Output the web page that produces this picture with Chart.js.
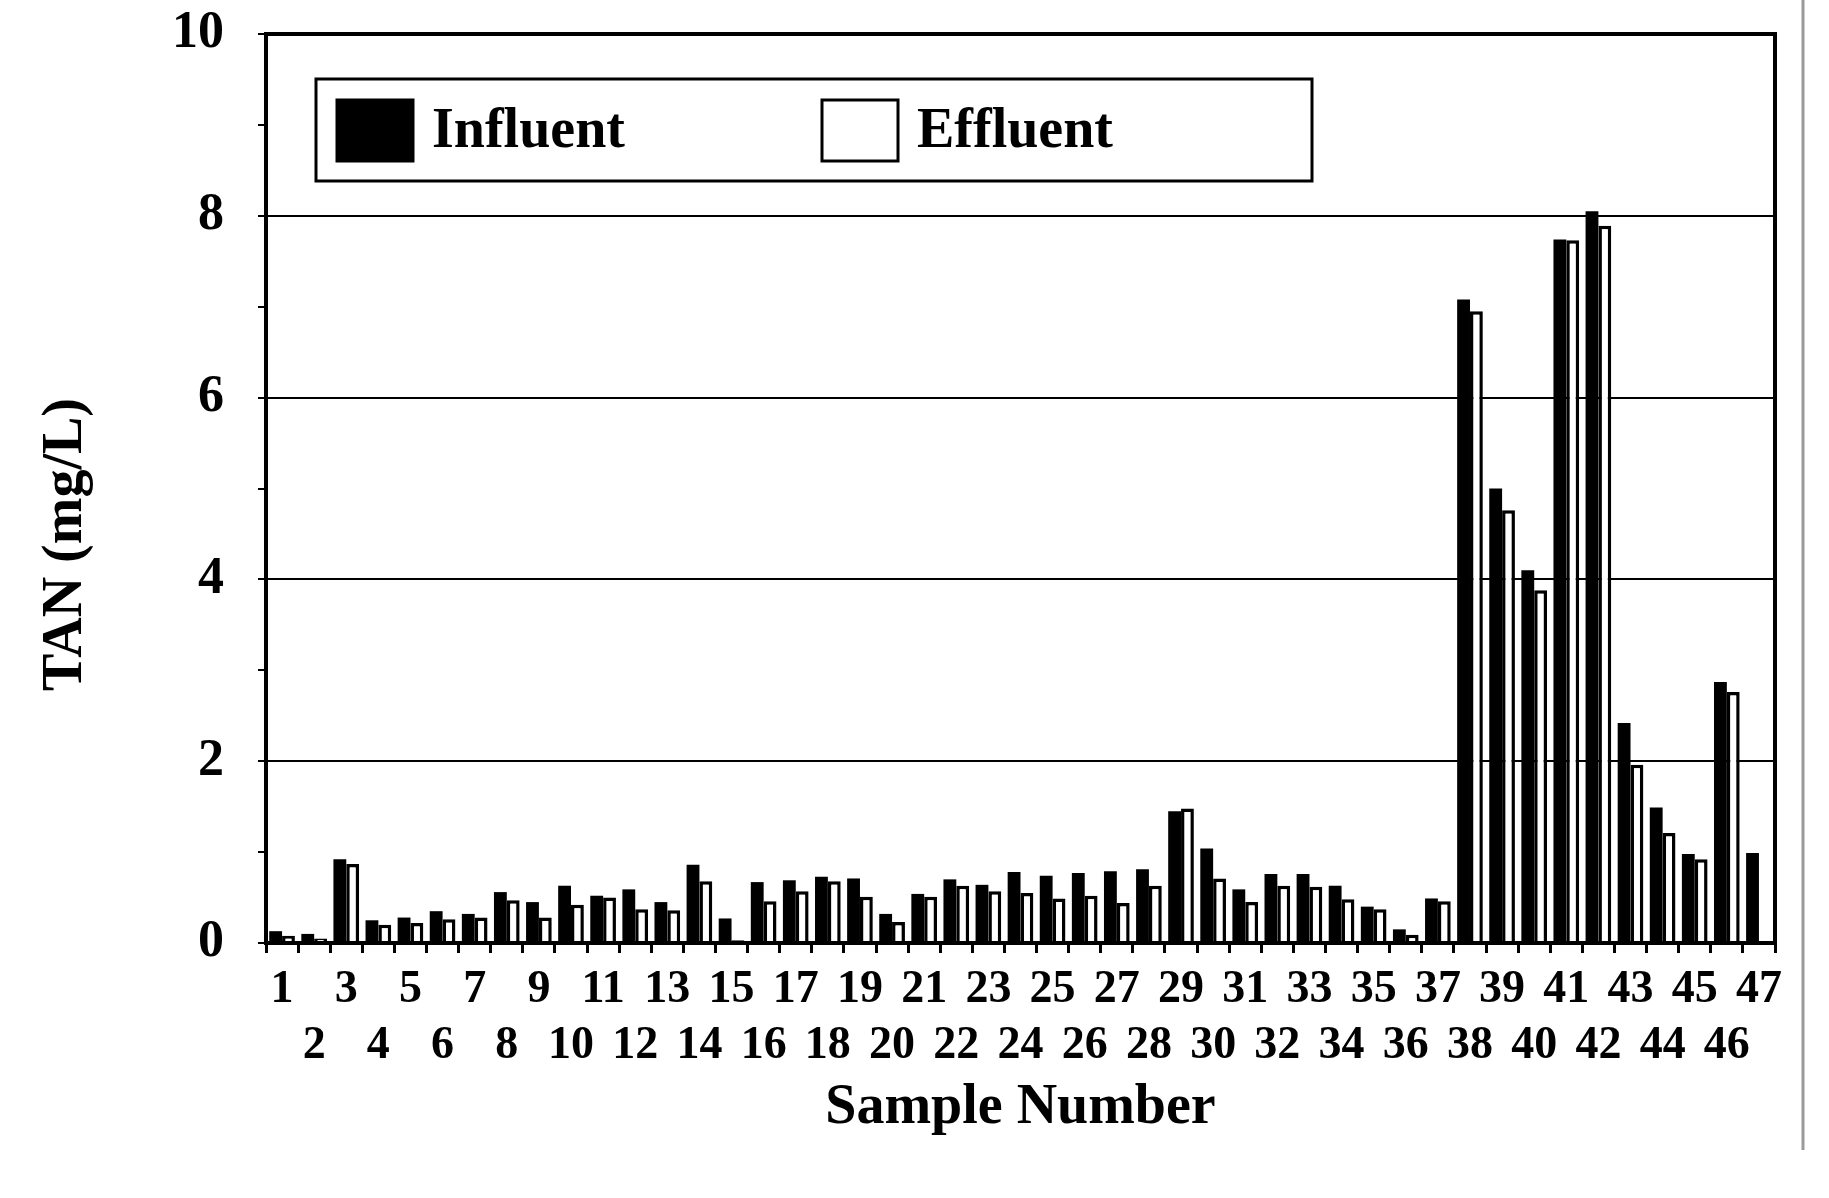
<!DOCTYPE html>
<html>
<head>
<meta charset="utf-8">
<title>TAN influent / effluent</title>
<script src="https://cdn.jsdelivr.net/npm/chart.js@4.4.1/dist/chart.umd.min.js"></script>
<style>
  body { margin: 0; background: #fff; }
  canvas { display: block; }
</style>
</head>
<body>
<canvas id="tanChart" width="1829" height="1198"></canvas>
<script>
const samples = [];
for (let i = 1; i <= 47; i++) samples.push(String(i));

const influent = [0.13, 0.10, 0.92, 0.25, 0.28, 0.35, 0.32, 0.56, 0.45, 0.63,
    0.52, 0.59, 0.45, 0.86, 0.27, 0.67, 0.69, 0.73, 0.71, 0.32,
    0.54, 0.70, 0.64, 0.78, 0.74, 0.77, 0.79, 0.81, 1.45, 1.04,
    0.59, 0.76, 0.76, 0.63, 0.40, 0.15, 0.49, 7.08, 5.00, 4.10,
    7.74, 8.05, 2.42, 1.49, 0.98, 2.87, 0.99];

const effluent = [0.08, 0.05, 0.87, 0.20, 0.22, 0.26, 0.28, 0.47, 0.28, 0.42,
    0.50, 0.37, 0.36, 0.68, 0.03, 0.46, 0.57, 0.68, 0.51, 0.23,
    0.51, 0.63, 0.57, 0.55, 0.49, 0.52, 0.44, 0.63, 1.48, 0.71,
    0.45, 0.63, 0.62, 0.48, 0.37, 0.09, 0.46, 6.95, 4.76, 3.88,
    7.73, 7.89, 1.96, 1.21, 0.92, 2.76, 0];

const yLabels = [0, 2, 4, 6, 8, 10];

const serif = "'Liberation Serif', 'Times New Roman', serif";

// frame round the plot, boxed legend inside it, and the scan edge on the right
const framePlugin = {
    id: 'frame',
    afterDraw(chart) {
        const ctx = chart.ctx;
        const a = chart.chartArea;
        ctx.save();
        ctx.strokeStyle = '#000';
        ctx.lineWidth = 4;
        ctx.strokeRect(a.left, a.top, a.right - a.left, a.bottom - a.top);

        // legend box
        ctx.lineWidth = 3;
        ctx.fillStyle = '#fff';
        ctx.fillRect(316, 79, 996, 102);
        ctx.strokeRect(316, 79, 996, 102);
        const itemX = [337, 822];
        ctx.font = 'bold 56px ' + serif;
        ctx.textBaseline = 'middle';
        chart.data.datasets.forEach((ds, i) => {
            const x = itemX[i];
            ctx.fillStyle = ds.backgroundColor;
            ctx.fillRect(x, 100, 76, 61);
            ctx.lineWidth = 3;
            ctx.strokeStyle = '#000';
            ctx.strokeRect(x, 100, 76, 61);
            ctx.fillStyle = '#000';
            ctx.fillText(ds.label, x + 95, 133);
        });

        ctx.strokeStyle = '#9a9a9a';
        ctx.lineWidth = 3;
        ctx.beginPath();
        ctx.moveTo(1803, 0);
        ctx.lineTo(1803, 1150);
        ctx.stroke();
        ctx.restore();
    }
};

const ctx = document.getElementById('tanChart').getContext('2d');
new Chart(ctx, {
    type: 'bar',
    data: {
        labels: samples,
        datasets: [
            {
                label: 'Influent',
                data: influent,
                backgroundColor: '#000',
                borderColor: '#000',
                borderWidth: 0,
            },
            {
                label: 'Effluent',
                data: effluent,
                backgroundColor: '#fff',
                borderColor: '#000',
                borderWidth: 3.5,
            }
        ]
    },
    options: {
        responsive: false,
        animation: false,
        devicePixelRatio: 1,
        barPercentage: 1.0,
        categoryPercentage: 0.8,
        layout: {
            padding: { top: 0, right: 54, left: 0, bottom: 0 }
        },
        plugins: {
            legend: { display: false },
            tooltip: { enabled: false }
        },
        scales: {
            x: {
                afterFit(scale) { scale.height = 255; },
                grid: {
                    drawOnChartArea: false,
                    color: '#000',
                    lineWidth: 3,
                    tickLength: 10
                },
                border: { color: '#000', width: 4 },
                ticks: {
                    autoSkip: false,
                    maxRotation: 0,
                    minRotation: 0,
                    padding: 10,
                    color: '#000',
                    font: { family: serif, size: 46, weight: 'bold', lineHeight: 1.2 },
                    callback: function (value, index) {
                        const lab = this.getLabelForValue(value);
                        return index % 2 === 0 ? [lab, ''] : ['', lab];
                    }
                },
                title: {
                    display: true,
                    text: 'Sample Number',
                    color: '#000',
                    font: { family: serif, size: 56, weight: 'bold', lineHeight: 1.2 },
                    padding: { top: 0, bottom: 56 }
                }
            },
            y: {
                min: 0,
                max: 10,
                afterFit(scale) { scale.width = 266; },
                grid: {
                    color: (c) => (c.tick && c.tick.value % 2 === 0 && c.tick.value > 0 && c.tick.value < 10) ? '#000' : 'rgba(0,0,0,0)',
                    tickColor: '#000',
                    lineWidth: 2,
                    tickLength: 8
                },
                border: { color: '#000', width: 4 },
                ticks: {
                    stepSize: 1,
                    padding: 34,
                    color: '#000',
                    // zero line height so the "10" label does not push the plot top down
                    font: { family: serif, size: 52, weight: 'bold', lineHeight: 0 },
                    callback: (v) => yLabels.includes(v) ? String(v) : ''
                },
                title: {
                    display: true,
                    // trailing spaces push the title a little below the axis centre, as in the original
                    text: 'TAN (mg/L)        ',
                    color: '#000',
                    font: { family: serif, size: 56, weight: 'bold', lineHeight: 1.2 },
                    padding: { top: 33, bottom: 0 }
                }
            }
        }
    },
    plugins: [framePlugin]
});
</script>
</body>
</html>
